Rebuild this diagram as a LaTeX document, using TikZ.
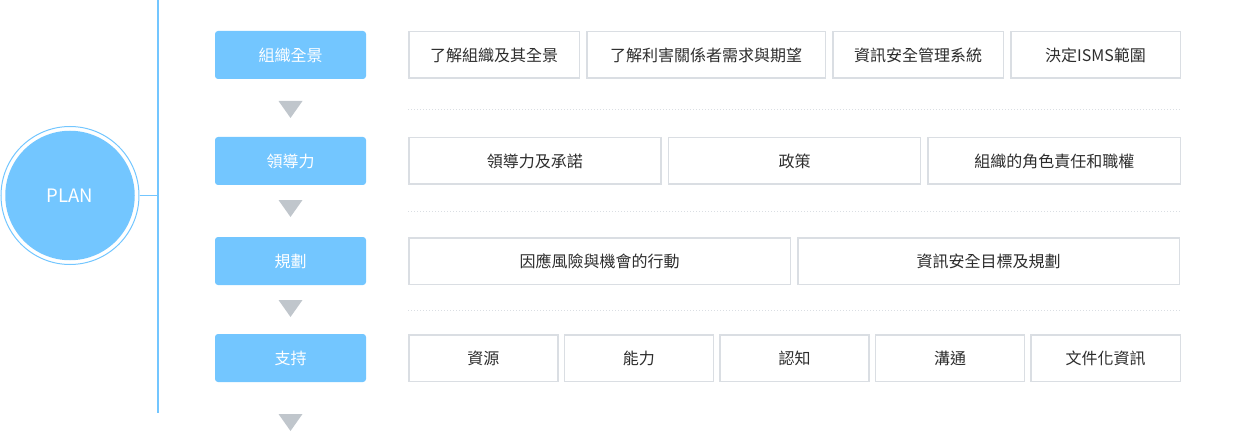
\documentclass[tikz,border=0pt]{standalone}
\usepackage{fontspec}
\setmainfont{Noto Sans CJK TC}
\usepackage{tikz}
\usetikzlibrary{positioning}
\definecolor{planblue}{RGB}{115,198,255}
\definecolor{boxline}{RGB}{218,222,227}
\definecolor{trigray}{RGB}{192,198,204}
\definecolor{txtgray}{RGB}{45,45,45}
\tikzstyle{stage} = [rectangle, fill=planblue, text=white, rounded corners=3pt,
    minimum width=151pt, minimum height=48pt, inner sep=0pt,
    font=\fontsize{16}{19}\selectfont]
\tikzstyle{clause} = [rectangle, draw=boxline, line width=1.5pt, fill=white,
    text=txtgray, minimum height=46.5pt, inner sep=0pt,
    font=\fontsize{16}{19}\selectfont]
\tikzstyle{sep} = [draw=boxline, line width=1pt, dash pattern=on 1pt off 2pt]

\begin{document}
\begin{tikzpicture}[x=1pt, y=-1pt, node distance=6pt]
		\useasboundingbox (0,0) rectangle (1240,433);
		% PLAN circle and spine
		\node [circle, draw=planblue, line width=1pt, minimum size=138pt] (ring) at (70,195.5) {};
		\node [circle, fill=planblue, text=white, minimum size=129.5pt, inner sep=0pt,
			font=\fontsize{18.5}{22}\selectfont] (plan) at (70,195.5) {PLAN};
		\coordinate (top) at (158,0);
		\coordinate (bottom) at (158,413);
		\draw [planblue, line width=2pt] (top) -- (bottom);
		\draw [planblue, line width=1pt] (ring.east) -- (ring.east -| top);
		
		% stages
		\node [stage] (context) at (290.5,55) {組織全景};
		\node [stage] (leader) at (290.5,161) {領導力};
		\node [stage] (planning) at (290.5,261) {規劃};
		\node [stage] (support) at (290.5,358) {支持};
		\foreach \y in {101,200,300,414}
			\fill [trigray] (278.5,\y) -- (302.5,\y) -- (290.5,\y+17) -- cycle;
		
		% row 1
		\node [clause, minimum width=170.5pt, anchor=west] (org) at (408,55) {了解組織及其全景};
		\node [clause, minimum width=238.5pt, right=of org] (party) {了解利害關係者需求與期望};
		\node [clause, minimum width=170.5pt, right=of party] (isms) {資訊安全管理系統};
		\node [clause, minimum width=169.5pt, right=of isms] (scope) {決定ISMS範圍};
		% row 2
		\node [clause, minimum width=252.2pt, anchor=west] (commit) at (408,161) {領導力及承諾};
		\node [clause, minimum width=252.2pt, right=of commit] (policy) {政策};
		\node [clause, minimum width=252.2pt, right=of policy] (roles) {組織的角色責任和職權};
		% row 3
		\node [clause, minimum width=381.5pt, anchor=west] (risk) at (408,261) {因應風險與機會的行動};
		\node [clause, minimum width=381.5pt, right=of risk] (goals) {資訊安全目標及規劃};
		% row 4
		\node [clause, minimum width=149.1pt, anchor=west] (res) at (408,358) {資源};
		\node [clause, minimum width=149.1pt, right=5pt of res] (comp) {能力};
		\node [clause, minimum width=149.1pt, right=5pt of comp] (aware) {認知};
		\node [clause, minimum width=149.1pt, right=5pt of aware] (comm) {溝通};
		\node [clause, minimum width=149.1pt, right=5pt of comm] (docs) {文件化資訊};
		
		\foreach \y in {109.5,211.5,310}
			\draw [sep] (408,\y) -- (1181,\y);
		
		\end{tikzpicture}
\end{document}
